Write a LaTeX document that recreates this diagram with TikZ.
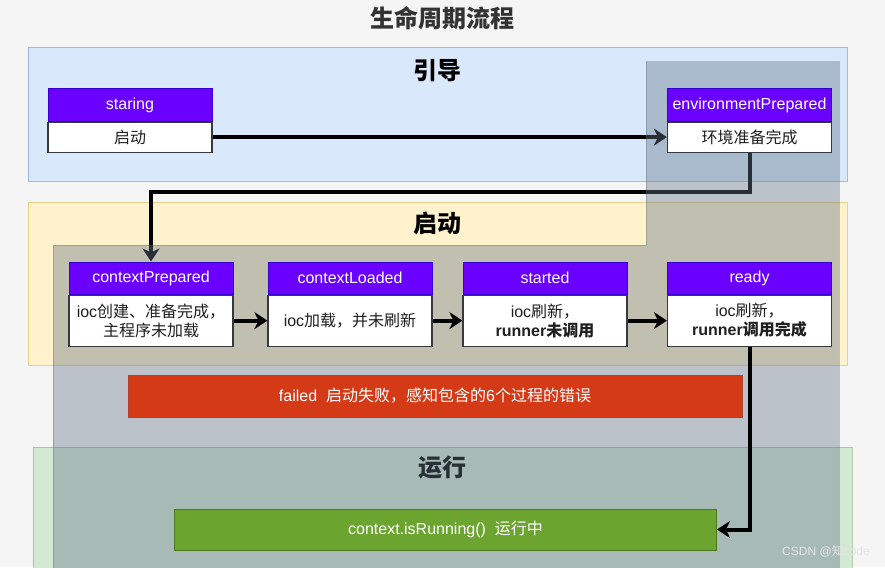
\documentclass[tikz,border=0pt]{standalone}
\usepackage{fontspec}
\setmainfont{Liberation Sans}
\newfontfamily\zhfont{Noto Sans CJK SC}
\newcommand{\zh}[1]{{\zhfont #1}}
\usetikzlibrary{arrows.meta}

\definecolor{pageBg}{HTML}{F5F5F5}
\definecolor{hdFill}{HTML}{6A00FF}
\definecolor{hdLine}{HTML}{3700CC}
\definecolor{bodyLine}{HTML}{36393D}
\definecolor{blueFill}{HTML}{DAE8FC}
\definecolor{blueLine}{HTML}{6C8EBF}
\definecolor{yelFill}{HTML}{FFF2CC}
\definecolor{yelLine}{HTML}{D6B656}
\definecolor{grnFill}{HTML}{D5E8D4}
\definecolor{grnLine}{HTML}{82B366}
\definecolor{failFill}{HTML}{D53A17}
\definecolor{failLine}{HTML}{AE4132}
\definecolor{runFill}{HTML}{6BA530}
\definecolor{runLine}{HTML}{4D7A1F}
\definecolor{shadeFill}{HTML}{647687}
\definecolor{shadeLine}{HTML}{314354}
\definecolor{titleGray}{HTML}{333333}

\pgfdeclarelayer{back}
\pgfdeclarelayer{shade}
\pgfsetlayers{back,shade,main}

\tikzset{
  region/.style={line width=1pt, draw opacity=0.55},
  stagelabel/.style={font=\fontsize{24}{28}\selectfont\bfseries},
  headbox/.style={draw=hdLine, fill=hdFill, text=white, line width=1pt,
    minimum width=164pt, minimum height=32pt, inner sep=0pt,
    font=\fontsize{16}{19}\selectfont},
  bodybox/.style={draw=bodyLine, fill=white, line width=1.2pt, anchor=north,
    minimum width=164pt, inner sep=0pt, align=center, text=titleGray!60!black,
    font=\fontsize{16}{19}\selectfont},
  notebox/.style={line width=1pt, text=white, inner sep=0pt,
    font=\fontsize{16}{19}\selectfont},
  flow/.style={line width=4pt, -{Stealth[length=13pt,width=17pt,inset=4pt]}}
}

\begin{document}
\begin{tikzpicture}[x=1pt,y=-1pt]
\useasboundingbox (0,0) rectangle (885,567);

%%Title
\node[stagelabel, text=titleGray] (title) at (442,18) {\zh{生命周期流程}};

%%Bootstrap
\node[headbox] (stH) at (130,105) {staring};
\node[bodybox, minimum height=30pt] (stB) at (stH.south) {\zh{启动}};
\node[headbox] (envH) at (749.5,105) {environmentPrepared};
\node[bodybox, minimum height=30pt] (envB) at (envH.south) {\zh{环境准备完成}};

%%Start
\node[headbox] (ctxPH) at (151,278) {contextPrepared};
\node[bodybox, minimum height=51pt] (ctxPB) at (ctxPH.south)
  {ioc\zh{创建、准备完成，}\\\zh{主程序未加载}};
\node[headbox] (ctxLH) at (350,278) {contextLoaded};
\node[bodybox, minimum height=51pt] (ctxLB) at (ctxLH.south)
  {ioc\zh{加载，并未刷新}};
\node[headbox] (stdH) at (545,278) {started};
\node[bodybox, minimum height=51pt] (stdB) at (stdH.south)
  {ioc\zh{刷新，}\\\textbf{runner\zh{未调用}}};
\node[headbox] (rdyH) at (749.5,278) {ready};
\node[bodybox, minimum height=51pt] (rdyB) at (rdyH.south)
  {ioc\zh{刷新，}\\\textbf{runner\zh{调用完成}}};

%%Failed
\node[notebox, draw=failLine, fill=failFill, minimum width=614pt, minimum height=42pt]
  (fail) at (435,396) {failed\ \ \zh{启动失败，感知包含的}6\zh{个过程的错误}};

%%Running
\node[notebox, draw=runLine, fill=runFill, minimum width=542pt, minimum height=41pt]
  (run) at (445.5,529.5) {context.isRunning()\ \ \zh{运行中}};

%%Mark
\node[text=white!90!black, font=\fontsize{12}{14}\selectfont] (mark) at (826,551)
  {CSDN @\zh{知}code};

%%Links
\draw[flow] (ctxPB) -- (ctxLB);
\draw[flow] (ctxLB) -- (stdB);
\draw[flow] (stdB) -- (rdyB);
\draw[flow] (rdyB.south) |- (run.east);

\begin{pgfonlayer}{back}
\fill[pageBg] (0,0) rectangle (885,567);
%%Stages
\draw[region, draw=blueLine, fill=blueFill] (28,48) rectangle (847,181);
\draw[region, draw=yelLine, fill=yelFill] (28,202) rectangle (847,365);
\draw[region, draw=grnLine, fill=grnFill] (33,447) rectangle (852,580);
\node[stagelabel] (bootLbl) at (437,71) {\zh{引导}};
\node[stagelabel] (startLbl) at (437,223) {\zh{启动}};
\node[stagelabel] (runLbl) at (442,468) {\zh{运行}};
%%Under the shade
\draw[flow] (stB) -- (envB);
\draw[flow] (envB.south) -- ++(0,39) -| (ctxPH.north);
\end{pgfonlayer}

\begin{pgfonlayer}{shade}
\draw[fill=shadeFill, fill opacity=0.4, draw=shadeLine, draw opacity=0.25, line width=1pt]
  (646,62) -- (839,62) -- (839,580) -- (53,580) -- (53,245) -- (646,245) -- cycle;
\end{pgfonlayer}
\end{tikzpicture}
\end{document}
